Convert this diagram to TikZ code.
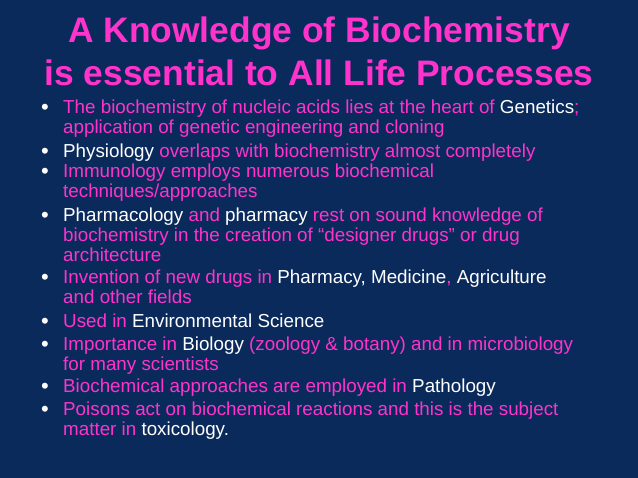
\documentclass[tikz,border=0pt]{standalone}
\usepackage{fontspec}
\setmainfont{Liberation Sans}
\definecolor{bg}{HTML}{0B2A5C}
\definecolor{pk}{HTML}{FF33CC}
\tikzset{ln/.style={anchor=base west,inner sep=0pt,text=pk,font=\fontsize{18.8}{20}\selectfont},
bl/.style={anchor=base west,inner sep=0pt,text=white,font=\fontsize{22}{20}\selectfont},
tt/.style={inner sep=0pt,text=pk,font=\bfseries\fontsize{35.4}{36}\selectfont}}
\newcommand{\whx}[1]{\textcolor{white}{#1}}
\begin{document}
\begin{tikzpicture}[x=1pt,y=-1pt]
\fill[bg] (0,0) rectangle (638,478);
\useasboundingbox (0,0) rectangle (638,478);
\node[tt] (t1) at (319,33) {A Knowledge of Biochemistry};
\node[tt] (t2) at (319,73) {is essential to All Life Processes};
\begin{scope}[yshift=-2pt]
\foreach \y in {113,157,177,221,283,327,350,392,415}{\node[bl] at (41,\y) {•};}
\node[ln] (a1) at (63,112) {The biochemistry of nucleic acids lies at the heart of \whx{Genetics};};
\node[ln] (a2) at (63,132) {application of genetic engineering and cloning};
\node[ln] (b1) at (63,156) {\whx{Physiology} overlaps with biochemistry almost completely};
\node[ln] (c1) at (63,176) {Immunology employs numerous biochemical};
\node[ln] (c2) at (63,196) {techniques/approaches};
\node[ln] (d1) at (63,220) {\whx{Pharmacology} and \whx{pharmacy} rest on sound knowledge of};
\node[ln] (d2) at (63,240) {biochemistry in the creation of “designer drugs” or drug};
\node[ln] (d3) at (63,260) {architecture};
\node[ln] (e1) at (63,282) {Invention of new drugs in \whx{Pharmacy, Medicine}, \whx{Agriculture}};
\node[ln] (e2) at (63,302) {and other fields};
\node[ln] (f1) at (63,326) {Used in \whx{Environmental Science}};
\node[ln] (g1) at (63,349) {Importance in \whx{Biology} (zoology \& botany) and in microbiology};
\node[ln] (g2) at (63,369) {for many scientists};
\node[ln] (h1) at (63,391) {Biochemical approaches are employed in \whx{Pathology}};
\node[ln] (i1) at (63,414) {Poisons act on biochemical reactions and this is the subject};
\node[ln] (i2) at (63,434) {matter in \whx{toxicology.}};
\end{scope}
\end{tikzpicture}
\end{document}
